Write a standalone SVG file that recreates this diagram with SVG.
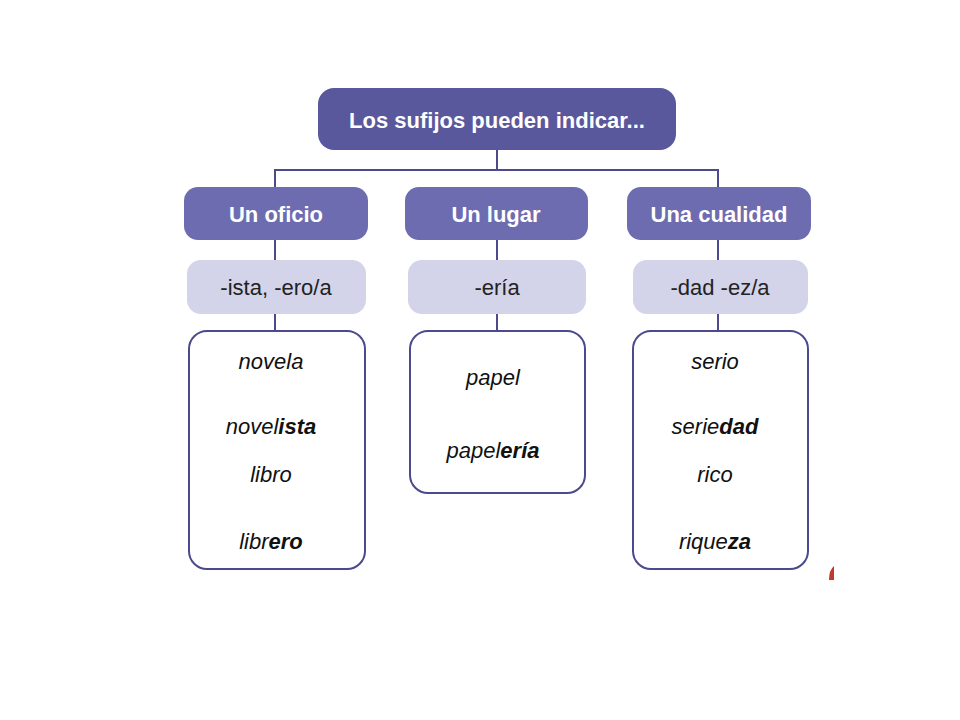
<svg xmlns="http://www.w3.org/2000/svg" width="960" height="720" viewBox="0 0 960 720">
<defs>
<style>
.hd{fill:#6e6cb0}
.sf{fill:#d3d3ea}
.bx{fill:#fff;stroke:#4b4a8c;stroke-width:2}
.ln{stroke:#4b4a8c;stroke-width:2;fill:none}
.ht{font-family:"Liberation Sans",Arial,sans-serif;font-weight:bold;font-size:22px;fill:#fff;text-anchor:middle}
.st{font-family:"Liberation Sans",Arial,sans-serif;font-size:22px;fill:#222;text-anchor:middle}
.it{font-family:"Liberation Sans",Arial,sans-serif;font-style:italic;font-size:22px;fill:#111;text-anchor:middle}
</style>
<marker id="ar" viewBox="0 0 10 10" refX="9" refY="5" markerWidth="6" markerHeight="6" orient="auto"><path d="M0,0L10,5L0,10z" fill="#4b4a8c"/></marker>
</defs>
<rect width="960" height="720" fill="#fff"/>
<g id="connectors">
<path class="ln" d="M497,150V170M275,187V170H718V187M275,240V260M275,314V331M497,240V260M497,314V331M718,240V260M718,314V331"/>
<path class="ln" marker-end="url(#ar)" d="M276,374V408M276,487V523M497,392V430M718,374V408M718,487V523"/>
</g>
<g id="root"><rect x="318" y="88" width="358" height="62" rx="16" fill="#5a589c"/><text class="ht" x="497" y="128">Los sufijos pueden indicar...</text></g>
<g id="oficio"><rect class="hd" x="184" y="187" width="184" height="53" rx="14"/><text class="ht" x="276" y="222">Un oficio</text>
<rect class="sf" x="187" y="260" width="179" height="54" rx="14"/><text class="st" x="276" y="295">-ista, -ero/a</text>
<rect class="bx" x="189" y="331" width="176" height="238" rx="18"/>
<text class="it" x="271" y="369">novela</text>
<text class="it" x="271" y="434">novel<tspan font-weight="bold">ista</tspan></text>
<text class="it" x="271" y="482">libro</text>
<text class="it" x="271" y="549">lib<tspan>r</tspan><tspan font-weight="bold">ero</tspan></text></g>
<g id="lugar"><rect class="hd" x="405" y="187" width="183" height="53" rx="14"/><text class="ht" x="496" y="222">Un lugar</text>
<rect class="sf" x="408" y="260" width="178" height="54" rx="14"/><text class="st" x="497" y="295">-ería</text>
<rect class="bx" x="410" y="331" width="175" height="162" rx="18"/>
<text class="it" x="493" y="385">papel</text>
<text class="it" x="493" y="458">papel<tspan font-weight="bold">ería</tspan></text></g>
<g id="cualidad"><rect class="hd" x="627" y="187" width="184" height="53" rx="14"/><text class="ht" x="719" y="222">Una cualidad</text>
<rect class="sf" x="633" y="260" width="175" height="54" rx="14"/><text class="st" x="720" y="295">-dad -ez/a</text>
<rect class="bx" x="633" y="331" width="175" height="238" rx="18"/>
<text class="it" x="715" y="369">serio</text>
<text class="it" x="715" y="434">serie<tspan font-weight="bold">dad</tspan></text>
<text class="it" x="715" y="482">rico</text>
<text class="it" x="715" y="549">rique<tspan font-weight="bold">za</tspan></text></g>
<path d="M829,580 Q829,570 834,566 L834,580z" fill="#c0392b"/>
</svg>
